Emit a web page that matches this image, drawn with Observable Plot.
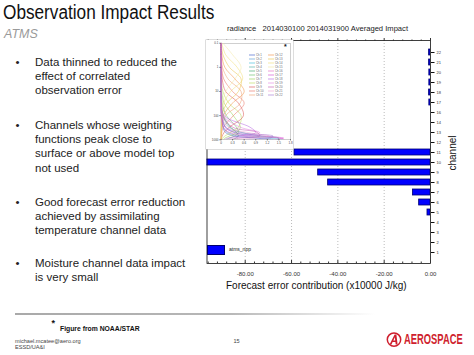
<!DOCTYPE html>
<html><head><meta charset="utf-8">
<script src="https://cdn.jsdelivr.net/npm/d3@7"></script>
<script src="https://cdn.jsdelivr.net/npm/@observablehq/plot@0.6"></script>
<style>
html,body{margin:0;padding:0;background:#fff;}
#slide{position:relative;width:474px;height:355px;overflow:hidden;font-family:"Liberation Sans",Arial,Helvetica,sans-serif;color:#222;}
.t{position:absolute;white-space:nowrap;line-height:1;}
.b{position:absolute;white-space:nowrap;font-size:11.5px;line-height:14.2px;color:#222;}
.dot{position:absolute;font-size:11.5px;line-height:14.2px;color:#222;}
#main,#inset,#insetLegend{position:absolute;}
</style></head><body>
<div id="slide">
  <div class="t" style="left:3px;top:2px;font-size:20px;color:#111;transform:scaleX(0.86);transform-origin:left top;">Observation Impact Results</div>
  <div class="t" style="left:4px;top:27.5px;font-size:12.5px;font-style:italic;color:#9a9a9a;">ATMS</div>

  <div class="dot" style="left:15.5px;top:55px;">•</div>
  <div class="b" style="left:35px;top:55px;">Data thinned to reduced the<br>effect of correlated<br>observation error</div>
  <div class="dot" style="left:15.5px;top:118px;">•</div>
  <div class="b" style="left:35px;top:118px;">Channels whose weighting<br>functions peak close to<br>surface or above model top<br>not used</div>
  <div class="dot" style="left:15.5px;top:195px;">•</div>
  <div class="b" style="left:35px;top:195px;">Good forecast error reduction<br>achieved by assimilating<br>temperature channel data</div>
  <div class="dot" style="left:15.5px;top:256px;">•</div>
  <div class="b" style="left:35px;top:256px;">Moisture channel data impact<br>is very small</div>

  <div class="t" style="left:227px;top:25px;font-size:7.6px;color:#222;">radiance&nbsp;&nbsp;&nbsp;2014030100 2014031900 Averaged Impact</div>
  <div id="main" style="left:200px;top:30px;"></div>
  <div id="inset" style="left:206px;top:40px;width:87px;height:109px;background:#fff;box-shadow:0 0 0 0.5px #bbb;"></div>
  <div id="insetLegend" style="left:206px;top:40px;"></div>
  <div style="position:absolute;left:207px;top:244.5px;width:16px;height:8px;background:#0000ff;border:0.5px solid #000070;"></div>
  <div class="t" style="left:229px;top:246.5px;font-size:5px;color:#222;">atms_npp</div>
  <div class="t" style="left:226px;top:280.5px;font-size:10px;color:#111;">Forecast error contribution (x10000 J/kg)</div>
  <div class="t" style="left:453px;top:153px;font-size:10px;color:#111;transform:translate(-50%,-50%) rotate(-90deg);">channel</div>

  <div style="position:absolute;left:15px;top:313px;width:360px;height:2px;background:linear-gradient(to right,#a9a9a9 0%,#b8b8b8 60%,rgba(255,255,255,0) 100%);"></div>
  <div class="t" style="left:51.5px;top:319px;font-size:9px;font-weight:bold;color:#111;">*</div>
  <div class="t" style="left:60px;top:325.8px;font-size:6.8px;font-weight:bold;color:#111;">Figure from NOAA/STAR</div>
  <div class="t" style="left:15px;top:339.2px;font-size:5.6px;color:#444;">michael.mcatee@aero.org</div>
  <div class="t" style="left:15px;top:344.7px;font-size:5.6px;color:#444;">ESSD/UA&amp;I</div>
  <div class="t" style="left:233.5px;top:339.3px;font-size:5.6px;color:#444;">15</div>
  <svg style="position:absolute;left:386px;top:332px;" width="16" height="16" viewBox="0 0 16 16">
    <circle cx="8" cy="7.6" r="6.7" fill="none" stroke="#cf1f2e" stroke-width="1.5"/>
    <path d="M3.6,12.6 L8.6,2.6 L10.4,2.6 L11.6,12.6 L9.7,12.6 L9.4,10 L6.6,10 L5.5,12.6 Z M7.3,8.4 L9.2,8.4 L8.9,5.2 Z" fill="#cf1f2e" fill-rule="evenodd"/>
  </svg>
  <div class="t" style="left:404px;top:332.4px;font-size:14.9px;font-weight:bold;color:#cf1f2e;transform:scaleX(0.63);transform-origin:left top;">AEROSPACE</div>
</div>
<script>
// ---- main chart data (channel 15 is not shown on the reference axis) ----
const channels = [1,2,3,4,5,6,7,8,9,10,11,12,13,14,16,17,18,19,20,21,22];
const impact = [0,0,0,0,-1.3,-4.9,-7.6,-44.2,-48.5,-98,-58.7,0,0,0,0,-0.5,-0.6,-0.5,-0.5,-0.6,-0.6];
const majorTicks = [-80,-60,-40,-20,0];
const minorTicks = [-96,-92,-88,-84,-76,-72,-68,-64,-56,-52,-48,-44,-36,-32,-28,-24,-16,-12,-8,-4];

// ---- inset (weighting functions) data ----
const insetChannels = [1,2,3,4,5,6,7,8,9,10,11,12,13,14,15,16,17,18,19,20,21,22];
const wfLevels = [0.1,0.3,1,3,10,30,100,300,500,700,850,1000];
const wfWeights = [
  [0,0,0,0,0,0,0.01,0.05,0.12,0.35,0.9,1.35],
  [0,0,0,0,0,0,0.01,0.06,0.18,0.55,1.2,1.5],
  [0,0,0,0,0,0.01,0.03,0.12,0.35,0.85,1.4,1.6],
  [0,0,0,0,0,0.01,0.05,0.22,0.55,1.05,1.5,1.45],
  [0,0,0,0,0,0.01,0.06,0.25,0.4,0.45,0.38,0.3],
  [0,0,0,0,0.01,0.03,0.14,0.4,0.45,0.35,0.22,0.14],
  [0,0,0,0,0.02,0.08,0.32,0.5,0.4,0.22,0.1,0.05],
  [0,0,0,0.01,0.05,0.2,0.52,0.45,0.25,0.1,0.04,0.02],
  [0,0,0.01,0.03,0.12,0.45,0.58,0.22,0.08,0.03,0.01,0],
  [0,0,0.02,0.07,0.3,0.6,0.32,0.06,0.02,0.01,0,0],
  [0,0.01,0.04,0.18,0.52,0.5,0.12,0.02,0.01,0,0,0],
  [0,0.02,0.1,0.36,0.6,0.3,0.06,0.01,0,0,0,0],
  [0.01,0.05,0.22,0.52,0.45,0.15,0.03,0.01,0,0,0,0],
  [0.02,0.12,0.42,0.56,0.25,0.07,0.02,0,0,0,0,0],
  [0.05,0.3,0.52,0.36,0.12,0.04,0.01,0,0,0,0,0],
  [0,0,0,0,0,0,0.01,0.06,0.22,0.7,1.5,1.65],
  [0,0,0,0,0,0,0.02,0.1,0.35,1.1,1.62,1.4],
  [0,0,0,0,0,0.01,0.08,0.75,0.9,0.45,0.18,0.08],
  [0,0,0,0,0,0,0.05,0.5,1.0,0.7,0.3,0.14],
  [0,0,0,0,0,0,0.03,0.3,0.95,1.0,0.5,0.22],
  [0,0,0,0,0,0,0.02,0.18,0.7,1.25,0.85,0.4],
  [0,0,0,0,0,0,0.01,0.12,0.5,1.35,1.25,0.65]
];
const chColors = ["#3050c8","#4a90d0","#30b8d8","#40a8a0","#2e9e5e","#5cb85c","#8fce4a","#b8d850",
  "#d84848","#e86a5a","#ec9a6a","#f08c3c","#e8c040","#f0dc6e","#f2e6a0",
  "#e060c0","#d040d0","#b060e0","#e080e0","#c050b0","#f0a0d0","#a070d0"];
const insetXTicks = [0,0.3,0.6,0.9,1.2,1.5,1.8];
const insetYTicks = [0.1,1,10,100,1000];

const font = "'Liberation Sans', Arial, Helvetica, sans-serif";

// ---- main chart ----
const bars = channels.map((c,i)=>({channel:c, value:impact[i]})).filter(d=>d.value!==0);
const main = Plot.plot({
  width: 274, height: 250,
  marginLeft: 6.5, marginRight: 44, marginTop: 10, marginBottom: 17,
  x: {domain: [-96.5, 0], label: null},
  y: {type: "band", domain: channels.slice().reverse(), paddingInner: 0.4, paddingOuter: 0.7, label: null},
  style: {fontFamily: font, background: "transparent", color: "#222"},
  marks: [
    Plot.gridX(majorTicks.slice(0,4), {stroke: "#aaa", strokeOpacity: 0.8, strokeDasharray: "1,2"}),
    Plot.barX(bars, {x1: d=>0, x2: "value", y: "channel",
      fill: "#0000ff", stroke: "#000070", strokeWidth: 0.8, clip: true}),
    Plot.frame({stroke: "#111", strokeWidth: 0.8}),
    Plot.axisX(minorTicks, {anchor: "bottom", tickSize: 1.5, dy: -1.5, tickFormat: ()=>"", label: null, stroke: "#333"}),
    Plot.axisX(majorTicks, {anchor: "bottom", tickSize: 3, dy: -3, tickFormat: ()=>"", label: null, stroke: "#333"}),
    Plot.axisX(minorTicks, {anchor: "top", tickSize: 1.5, tickFormat: ()=>"", label: null, stroke: "#333"}),
    Plot.axisX(majorTicks, {anchor: "top", tickSize: 3, tickFormat: ()=>"", label: null, stroke: "#333"}),
    Plot.axisX(majorTicks, {anchor: "bottom", tickSize: 0, tickPadding: 8.5, fontSize: 6, fill: "#333",
      tickFormat: d=>d.toFixed(2), label: null}),
    Plot.axisY({anchor: "right", tickSize: 3.5, tickPadding: 2.5, fontSize: 4, fill: "#333",
      stroke: "#111", tickFormat: d=>String(d), label: null})
  ]
});
document.getElementById("main").appendChild(main);

// ---- inset ----
const rows = [];
insetChannels.forEach((c,i)=>wfLevels.forEach((p,j)=>rows.push({ch:c, p, w:wfWeights[i][j]})));
const inset = Plot.plot({
  width: 87, height: 109,
  marginLeft: 14.5, marginRight: 3, marginTop: 2.7, marginBottom: 9.7,
  x: {domain: [0, 1.8], label: null},
  y: {type: "log", domain: [0.1, 1000], reverse: true, label: null},
  color: {type: "identity"},
  style: {fontFamily: font, background: "transparent", color: "#444"},
  marks: [
    Plot.frame({stroke: "#888", strokeWidth: 0.4}),
    Plot.line(rows, {x: "w", y: "p", z: "ch", stroke: d=>chColors[d.ch-1], strokeWidth: 0.5, curve: "catmull-rom", clip: true}),
    Plot.axisX(insetXTicks, {anchor: "bottom", tickSize: 1, tickPadding: 1.5, fontSize: 3, label: null,
      tickFormat: d=>d===0?"0":d.toFixed(1)}),
    Plot.axisY(insetYTicks, {anchor: "left", tickSize: 1, tickPadding: 1.5, fontSize: 3, label: null,
      tickFormat: d=>String(d)})
  ]
});
document.getElementById("inset").appendChild(inset);

// inset legend
const lg = d3.select("#insetLegend").append("svg").attr("width", 87).attr("height", 109)
  .style("font-family", font).style("overflow", "visible");
insetChannels.forEach((c,i)=>{
  const col = i < 11 ? 0 : 1, row = i % 11;
  const x0 = col === 0 ? 43 : 62, y0 = 15 + row*4;
  lg.append("line").attr("x1", x0).attr("x2", x0+6).attr("y1", y0).attr("y2", y0)
    .attr("stroke", chColors[i]).attr("stroke-width", 0.6);
  lg.append("text").attr("x", x0+7).attr("y", y0+1).attr("font-size", 2.8).attr("fill", "#666").text("Ch " + c);
});
lg.append("text").attr("x", 78).attr("y", 9).attr("font-size", 7).attr("font-weight", "bold").attr("fill", "#111").text("*");
</script>
</body></html>
